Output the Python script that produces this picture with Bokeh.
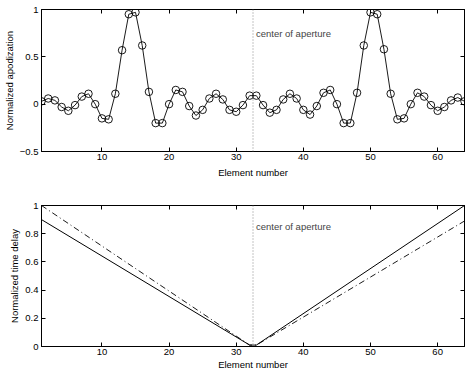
from bokeh.plotting import figure
from bokeh.layouts import column
from bokeh.models import Span, Label, LinearAxis, Range1d, FixedTicker
from bokeh.embed import file_html
from bokeh.resources import INLINE

# ---- data ----
elements = list(range(1, 65))
apodization = [0.03, 0.06, 0.04, -0.03, -0.07, -0.01, 0.08, 0.11, 0.00, -0.15,
               -0.16, 0.11, 0.57, 0.95, 0.97, 0.62, 0.13, -0.20, -0.20, 0.00,
               0.15, 0.13, -0.02, -0.12, -0.06, 0.06, 0.11, 0.05, -0.06, -0.08,
               -0.01, 0.09, 0.09, -0.01, -0.09, -0.06, 0.05, 0.11, 0.06, -0.06,
               -0.11, -0.02, 0.12, 0.15, 0.00, -0.20, -0.20, 0.12, 0.62, 0.97,
               0.95, 0.58, 0.11, -0.16, -0.15, 0.00, 0.12, 0.08, -0.01, -0.07,
               -0.03, 0.04, 0.07, 0.03]
delay_elements = [1, 32, 33, 64]
delay_solid = [0.90, 0.01, 0.01, 1.00]
delay_dashdot = [1.00, 0.01, 0.01, 0.89]
center_element = 32.5
center_text = "center of aperture"
x_ticks = [10, 20, 30, 40, 50, 60]
y_ticks_top = [-0.5, 0, 0.5, 1]
y_ticks_bottom = [0, 0.2, 0.4, 0.6, 0.8, 1]
x_title = "Element number"
y_title_top = "Normalized apodization"
y_title_bottom = "Normalized time delay"

FONT = "Liberation Sans"
FS = "9.5px"


def style(p, yticks, ylabel, xlabel_standoff):
    p.xaxis.ticker = FixedTicker(ticks=x_ticks)
    p.yaxis.ticker = FixedTicker(ticks=yticks)
    p.xaxis.axis_label = x_title
    p.yaxis.axis_label = ylabel
    for ax in p.xaxis + p.yaxis:
        ax.axis_label_text_font = FONT
        ax.axis_label_text_font_size = FS
        ax.axis_label_text_font_style = "normal"
        ax.axis_label_text_color = "black"
        ax.major_label_text_font = FONT
        ax.major_label_text_font_size = FS
        ax.major_label_text_color = "black"
        ax.major_tick_in = 4
        ax.major_tick_out = 0
        ax.minor_tick_line_color = None
        ax.axis_line_color = "black"
        ax.major_tick_line_color = "black"
        ax.major_label_standoff = 3
    p.xaxis.major_label_standoff = 2
    p.xaxis.axis_label_standoff = xlabel_standoff
    p.yaxis.axis_label_standoff = 2
    top = LinearAxis(ticker=FixedTicker(ticks=x_ticks),
                     major_label_overrides={t: "" for t in x_ticks},
                     major_tick_in=4, major_tick_out=0, minor_tick_line_color=None,
                     axis_line_color="black", major_label_standoff=0)
    right = LinearAxis(ticker=FixedTicker(ticks=yticks),
                       major_label_overrides={t: "" for t in yticks},
                       major_tick_in=4, major_tick_out=0, minor_tick_line_color=None,
                       axis_line_color="black", major_label_standoff=0)
    p.add_layout(top, "above")
    p.add_layout(right, "right")
    p.xgrid.grid_line_color = None
    p.ygrid.grid_line_color = None
    p.outline_line_color = "black"
    p.add_layout(Span(location=center_element, dimension="height",
                      line_color="#888888", line_dash="1 2", line_width=1))


p1 = figure(width=474, height=185, output_backend="svg", toolbar_location=None,
            x_range=Range1d(1, 64), y_range=Range1d(-0.5, 1),
            min_border_left=35, min_border_right=10, min_border_top=9, min_border_bottom=34)
style(p1, y_ticks_top, y_title_top, 4)
p1.line(elements, apodization, line_color="black", line_width=0.9)
p1.scatter(elements, apodization, marker="circle", size=7.5, fill_color=None,
           line_color="black", line_width=0.9)
p1.add_layout(Label(x=center_element, y=0.75, x_offset=3, text=center_text,
                    text_font=FONT, text_font_size=FS, text_baseline="middle"))

p2 = figure(width=474, height=187, output_backend="svg", toolbar_location=None,
            x_range=Range1d(1, 64), y_range=Range1d(0, 1),
            min_border_left=35, min_border_right=10, min_border_top=20, min_border_bottom=25)
style(p2, y_ticks_bottom, y_title_bottom, 1)
p2.line(delay_elements, delay_solid, line_color="black", line_width=1)
p2.line(delay_elements, delay_dashdot, line_color="black", line_width=0.9,
        line_dash="6 3 1 3")
p2.add_layout(Label(x=center_element, y=0.85, x_offset=3, text=center_text,
                    text_font=FONT, text_font_size=FS, text_baseline="middle"))

layout = column(p1, p2, spacing=0)
open("out.html", "w").write(file_html(layout, INLINE))
